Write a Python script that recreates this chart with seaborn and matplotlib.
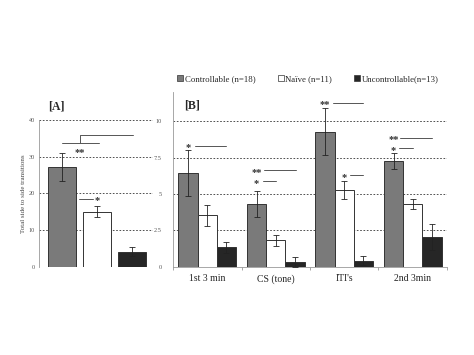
import numpy as np
import pandas as pd
import matplotlib
matplotlib.use('Agg')
import matplotlib.pyplot as plt
import seaborn as sns

conditions = ['Controllable (n=18)', 'Naïve (n=11)', 'Uncontrollable(n=13)']
colors = ['#7a7a7a', '#ffffff', '#262626']

# panel A: total transitions
total_mean = [27.3, 15.0, 4.2]
total_err = [3.8, 1.5, 1.2]

# panel B: per period
periods = ['1st 3 min', 'CS (tone)', 'ITI\'s', '2nd 3min']
ctrl_mean = [6.45, 4.32, 9.27, 7.28]
ctrl_err = [1.57, 0.91, 1.62, 0.56]
naive_mean = [3.55, 1.83, 5.26, 4.30]
naive_err = [0.72, 0.37, 0.62, 0.33]
unctrl_mean = [1.35, 0.34, 0.43, 2.08]
unctrl_err = [0.37, 0.32, 0.30, 0.89]

sns.set_style('white')
plt.rcParams['font.family'] = ['Liberation Serif', 'DejaVu Serif']

fig = plt.figure(figsize=(4.74, 3.55), dpi=100)
axA = fig.add_axes([0.082, 0.248, 0.241, 0.414])
axB = fig.add_axes([0.365, 0.248, 0.578, 0.493])

def add_errors(ax, means, errs):
    # bars come out hue by hue
    bars = [p for p in ax.patches if p.get_height() > 0]
    xs = [p.get_x() + p.get_width() / 2 for p in bars]
    ax.errorbar(xs, means, yerr=errs, fmt='none', ecolor='#222222',
                elinewidth=0.6, capsize=2.2, capthick=0.6, zorder=4)

def star(ax, x, y, s, px_per_unit):
    # asterisk glyph sits a few px above baseline
    ax.text(x, y - 4.5 / px_per_unit, s, ha='center', va='baseline',
            fontsize=7.5, fontweight='bold', color='#333333')

# ---- panel A
dfA = pd.DataFrame({'cond': conditions, 'val': total_mean})
sns.barplot(data=dfA, x='cond', y='val', hue='cond', palette=colors,
            edgecolor='#333333', linewidth=0.7, width=0.8, ax=axA,
            legend=False, zorder=3)
add_errors(axA, total_mean, total_err)
axA.set_ylim(0, 40)
axA.set_xlim(-0.66, 2.6)
axA.set_yticks([0, 10, 20, 30, 40])
axA.set_xticks([])
axA.set_xlabel('')
axA.set_ylabel('Total side to side transitions', fontsize=5, color='#444444', labelpad=2)
axA.tick_params(axis='y', labelsize=4.5, colors='#555555', length=0, pad=3)
for y in [0, 10, 20, 30, 40]:
    axA.axhline(y, color='#333333', ls=(0, (2, 2)), lw=0.6, zorder=1)
for s in ['top', 'right', 'bottom']:
    axA.spines[s].set_visible(False)
axA.spines['left'].set_color('#999999')
axA.spines['left'].set_linewidth(0.6)
axA.text(0.08, 1.07, '[A]', transform=axA.transAxes, fontsize=8.5, fontweight='bold')
# significance marks
axA.plot([0.0, 1.06], [33.7, 33.7], color='#555555', lw=0.7)
axA.plot([0.51, 0.51, 2.03], [33.7, 35.9, 35.9], color='#555555', lw=0.7)
star(axA, 0.51, 31.6, '**', 3.675)
axA.plot([0.49, 0.89], [18.5, 18.5], color='#555555', lw=0.7)
star(axA, 1.0, 18.5, '*', 3.675)

# ---- panel B
dfB = pd.DataFrame({
    'period': periods * 3,
    'cond': np.repeat(conditions, len(periods)),
    'val': ctrl_mean + naive_mean + unctrl_mean,
})
sns.barplot(data=dfB, x='period', y='val', hue='cond', palette=colors,
            edgecolor='#333333', linewidth=0.7, width=0.84, ax=axB,
            legend=False, zorder=3)
add_errors(axB, ctrl_mean + naive_mean + unctrl_mean,
           ctrl_err + naive_err + unctrl_err)
axB.set_ylim(0, 12)
axB.set_xlim(-0.5, 3.5)
axB.set_yticks([0, 2.5, 5, 7.5, 10])
axB.set_yticklabels(['0', '2.5', '5', '7.5', '10'])
axB.set_xticks([-0.5, 0.5, 1.5, 2.5, 3.5], minor=True)
axB.set_xlabel('')
axB.set_ylabel('')
axB.tick_params(axis='y', labelsize=4.5, colors='#555555', length=0, pad=8)
axB.tick_params(axis='x', which='major', labelsize=7, length=0, pad=5)
axB.tick_params(axis='x', which='minor', length=2.5, width=0.6, color='#999999', bottom=True)
for y in [2.5, 5, 7.5, 10]:
    axB.axhline(y, color='#333333', ls=(0, (2, 2)), lw=0.6, zorder=1)
for s in ['top', 'right']:
    axB.spines[s].set_visible(False)
for s in ['left', 'bottom']:
    axB.spines[s].set_color('#999999')
    axB.spines[s].set_linewidth(0.6)
axB.text(0.04, 0.925, '[B]', transform=axB.transAxes, fontsize=8.5,
         fontweight='bold', va='center')

sig_marks = [
    ('*', -0.28, 8.3, -0.18, 0.28),
    ('**', 0.73, 6.62, 0.83, 1.29),
    ('*', 0.72, 5.88, 0.82, 1.0),
    ('**', 1.72, 11.26, 1.83, 2.28),
    ('*', 2.0, 6.29, 2.09, 2.28),
    ('**', 2.72, 8.85, 2.82, 3.28),
    ('*', 2.71, 8.15, 2.8, 3.0),
]
for s, sx, sy, x0, x1 in sig_marks:
    star(axB, sx, sy, s, 14.6)
    axB.plot([x0, x1], [sy, sy], color='#555555', lw=0.7)

# legend across top
handles = [plt.Line2D([], [], marker='s', ls='', markersize=4, markerfacecolor=c,
                      markeredgecolor='#333333', markeredgewidth=0.5) for c in colors]
fig.legend(handles, conditions, loc='center', bbox_to_anchor=(0.649, 0.777), ncol=3,
           frameon=False, fontsize=6.3, handletextpad=0.1, columnspacing=2.5,
           handlelength=0.8)

fig.savefig('out.png', dpi=100)
